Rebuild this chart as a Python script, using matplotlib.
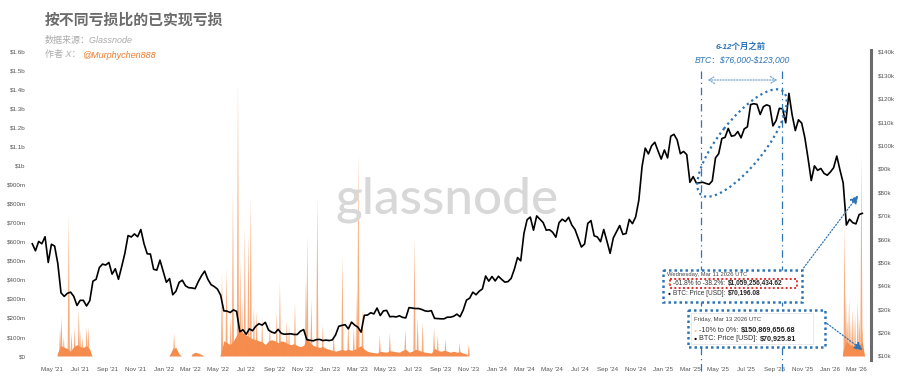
import numpy as np
import pandas as pd
import matplotlib
matplotlib.use('Agg')
import matplotlib.pyplot as plt
import matplotlib.dates as mdates
from matplotlib.patches import Ellipse, Rectangle, FancyArrowPatch

plt.rcParams['font.family'] = ['Liberation Sans', 'Noto Sans CJK SC', 'DejaVu Sans']
plt.rcParams['text.parse_math'] = False

# --- BTC weekly price (USD), Fridays ---
btc_2021 = [58000, 55000, 59000, 58000, 61000, 50000, 57800, 57000, 49500, 37000,
            35500, 36800, 37300, 35500, 31600, 33800, 33800, 31400, 33600, 42000,
            42800, 47800, 49300, 48900, 50000, 45000, 47300, 42800, 48200, 53900,
            61500, 60900, 62200, 61000, 64100, 58000, 53700, 53600, 47100, 46700,
            51000, 46300]
btc_2022 = [41500, 43100, 36200, 37700, 41500, 42400, 40000, 39200, 39100, 38800,
            41800, 44300, 46300, 42800, 40500, 39700, 38600, 36000, 29300, 29200,
            28600, 29700, 29100, 20400, 21200, 19300, 21600, 20800, 22700, 23800,
            23200, 24400, 21100, 20200, 19800, 21400, 19700, 19300, 19400, 19500,
            19200, 19200, 20600, 21300, 17000, 16700, 16500, 17000, 17100, 16600,
            16800, 16600]
btc_2023 = [16900, 19000, 22700, 23100, 23400, 21600, 24500, 23200, 22300, 20200,
            27400, 27500, 28500, 28000, 30500, 27300, 29300, 29500, 26800, 26900,
            26700, 27200, 26500, 26300, 30700, 30500, 30300, 30300, 29900, 29300,
            29100, 29400, 26100, 26000, 25900, 25900, 26600, 26600, 27000, 27900,
            26800, 29700, 33900, 34700, 37300, 36200, 37700, 38700, 44200, 42000,
            44000, 42100]
btc_2024 = [44100, 42800, 41600, 41800, 43200, 47100, 52100, 50700, 62400, 68300,
            69400, 63800, 69900, 68500, 67100, 63800, 64000, 62900, 60800, 67000,
            68500, 67500, 69300, 66000, 64100, 60300, 56600, 57900, 66700, 67900,
            61400, 60900, 58900, 64100, 59100, 53900, 60500, 63100, 65800, 62000,
            62400, 68400, 66600, 69500, 76700, 91000, 98900, 96400, 99900, 101400,
            97700, 94200]
btc_2025 = [98100, 94700, 104000, 104800, 102400, 96500, 97500, 96100, 84300, 86700,
            84000, 84100, 84300, 83800, 83400, 84900, 94700, 96500, 103000, 103500,
            107300, 104000, 104300, 106000, 103300, 107100, 108000, 117500, 117900, 117600,
            113300, 116600, 117400, 116900, 108400, 110700, 115900, 115700, 109700, 122300,
            113200, 106400, 111000, 109600, 103300, 94500, 85000, 91300, 89400, 90200,
            88100, 87300]
btc_2026 = [88700, 90500, 95500, 89500, 84000, 66000, 68500, 67000, 66500, 70500,
            71000]

# --- realized loss, weekly base level ($m) ---
loss_2021 = [20, 55, 45, 40, 25, 50, 60, 50, 45, 55, 35]                  # from 2021-05-14
loss_2022a = [5, 40, 45, 10]                                                # from 2022-01-14
loss_2022b = [10, 20, 15, 8]                                                # from 2022-03-04
loss_main = [10, 80, 70, 60, 80, 110, 140, 120, 110, 100, 90, 85, 80, 75, 60, 80,
             85, 80, 70, 80, 75, 65, 60, 65, 55, 50, 55, 100, 70, 55, 50, 45, 50,
             40, 35, 30, 25, 30, 35, 30, 35, 30, 35, 45, 55, 35, 25, 20, 18, 15,
             25, 22, 20, 28, 25, 22, 20, 30, 35, 20, 25, 35, 30, 25, 20, 18, 15,
             40, 30, 25, 30, 25, 20, 25, 20, 22, 15, 10]                   # from 2022-05-06
loss_2026 = [30, 80, 60, 55, 50, 60, 70]                                    # from 2026-01-30

# --- daily spikes ($m) ---
spike_dates = ['2021-05-19', '2021-05-22', '2021-05-27', '2021-06-07', '2021-06-13',
               '2021-06-20', '2021-06-29', '2021-07-02', '2021-07-07', '2021-07-16',
               '2021-07-20', '2022-01-24', '2022-05-09', '2022-05-19', '2022-05-28',
               '2022-06-02', '2022-06-13', '2022-06-18', '2022-06-22', '2022-06-28',
               '2022-07-06', '2022-07-11', '2022-07-18', '2022-07-24', '2022-08-05',
               '2022-08-22', '2022-09-06', '2022-09-13', '2022-09-28', '2022-10-03',
               '2022-10-16', '2022-11-09', '2022-11-12', '2022-11-21', '2022-12-04',
               '2022-12-16', '2023-01-09', '2023-01-28', '2023-02-10', '2023-02-22',
               '2023-03-01', '2023-03-04', '2023-03-13', '2023-04-20', '2023-05-12',
               '2023-06-15', '2023-07-05', '2023-07-12', '2023-07-23', '2023-08-17',
               '2023-08-25', '2023-09-11', '2023-10-12', '2023-11-01', '2026-02-02',
               '2026-02-05', '2026-02-08', '2026-02-12', '2026-02-16', '2026-02-20',
               '2026-02-25', '2026-03-03', '2026-03-07', '2026-03-11', '2026-03-13']
spike_vals = [150, 205, 100, 742, 120,
              150, 250, 130, 100, 155,
              155, 120, 437, 470, 200,
              860, 1440, 500, 300, 680,
              650, 840, 260, 240, 205,
              180, 230, 385, 190, 160,
              280, 400, 630, 300, 840,
              160, 120, 520, 180, 150,
              350, 1070, 250, 110, 120,
              140, 620, 200, 180, 150,
              110, 90, 70, 60, 690,
              320, 200, 300, 180, 250,
              220, 290, 200, 1059, 151]

# tooltip texts
tip1_date = 'Wednesday, Mar 11 2026 UTC'
tip1_rows = [('-61.8% to -38.2%:', '$1,059,256,434.62', '#f08a3c'),
             ('BTC: Price [USD]:', '$70,196.08', 'black')]
tip2_date = 'Friday, Mar 13 2026 UTC'
tip2_rows = [('-10% to 0%:', '$150,869,656.68', '#f8c7a2'),
             ('BTC: Price [USD]:', '$70,925.81', 'black')]


def weekly(start, vals):
    return pd.date_range(start, periods=len(vals), freq='7D')


btc_dates = np.concatenate([weekly('2021-03-19', btc_2021), weekly('2022-01-07', btc_2022),
                            weekly('2023-01-06', btc_2023), weekly('2024-01-05', btc_2024),
                            weekly('2025-01-03', btc_2025), weekly('2026-01-02', btc_2026)])
btc = btc_2021 + btc_2022 + btc_2023 + btc_2024 + btc_2025 + btc_2026

fig = plt.figure(figsize=(9, 3.86), dpi=100)
fig.patch.set_facecolor('white')
ax = fig.add_axes([30 / 900, 1 - 360 / 386, 841 / 900, 310 / 386])
ax2 = ax.twinx()

orange = '#f58b4c'
for start, vals in [('2021-05-14', loss_2021), ('2022-01-14', loss_2022a),
                    ('2022-03-04', loss_2022b), ('2022-05-06', loss_main),
                    ('2026-01-30', loss_2026)]:
    d = mdates.date2num(weekly(start, vals))
    v = np.array(vals) * 1e6
    xs = np.concatenate([[d[0] - 2], d, [d[-1] + 5]])
    ys = np.concatenate([[0], v, [0]])
    ax.fill_between(xs, 0, ys, color=orange, linewidth=0)

# spikes drawn as narrow peaks
half = 2.5
for ds, val in zip(pd.to_datetime(spike_dates), spike_vals):
    c = mdates.date2num(ds)
    ax.fill([c - half, c, c + half], [0, val * 1e6, 0], color='#f68f50', alpha=0.75,
            linewidth=0)

ax2.plot(btc_dates, btc, color='black', linewidth=1.2)

ax.set_xlim(pd.Timestamp('2021-03-14'), pd.Timestamp('2026-04-01'))
ax.set_ylim(-21.05e6, 1.6105e9)
ax2.set_ylim(8289, 140855)

left_ticks = np.arange(0, 1.7e9, 1e8)
ax.set_yticks(left_ticks)
ax.set_yticklabels(['$0'] + [f'${int(v / 1e6)}m' for v in left_ticks[1:10]] + ['$1b'] +
                   [f'${v / 1e9:.1f}b' for v in left_ticks[11:]])
right_ticks = np.arange(10000, 150000, 10000)
ax2.set_yticks(right_ticks)
ax2.set_yticklabels([f'${int(v / 1000)}k' for v in right_ticks])

xt = pd.date_range('2021-05-01', '2026-03-01', freq='2MS')
ax.set_xticks(xt)
ax.set_xticklabels([d.strftime("%b '%y") for d in xt])

for a in (ax, ax2):
    for s in a.spines.values():
        s.set_visible(False)
    a.tick_params(length=0, labelsize=4.5, colors='#555555')
ax2.spines['right'].set_visible(True)
ax2.spines['right'].set_color('#6b6b6b')
ax2.spines['right'].set_linewidth(2.2)
ax.tick_params(axis='x', pad=5)
ax.tick_params(axis='y', pad=3)
ax2.tick_params(axis='y', pad=5)

# --- overlay in pixel coordinates for texts and annotations ---
ov = fig.add_axes([0, 0, 1, 1], zorder=5)
ov.set_xlim(0, 900)
ov.set_ylim(386, 0)
ov.axis('off')
ov.patch.set_alpha(0)
renderer = fig.canvas.get_renderer()

fig.text(447 / 900, 1 - 200 / 386, 'glassnode', fontsize=37, color='#d8d8d8', ha='center',
         va='center', family='Lato', fontweight='medium', zorder=0)

ov.text(45, 20, '按不同亏损比的已实现亏损', fontsize=10.7, fontweight='bold', color='#6b6b6b',
        va='center', family=['Noto Sans CJK SC'])
ov.text(45, 40, '数据来源：Glassnode', fontsize=6.5, color='#ababab', va='center', style='italic')
ov.text(45, 55, '作者 X：', fontsize=6.5, color='#ababab', va='center', style='italic')
ov.text(82, 55, '@Murphychen888', fontsize=6.5, color='#f07a2e', va='center', style='italic')

blue = '#2e75b6'
ov.text(741, 47, '6-12个月之前', fontsize=6, fontweight='bold', style='italic', color=blue,
        ha='center', va='center')
ov.text(742, 60, 'BTC：$76,000-$123,000', fontsize=6.2, style='italic', color=blue,
        ha='center', va='center')
for xv in (701, 782):
    ov.plot([xv, xv], [71, 372], color=blue, lw=0.9, ls=(0, (6, 3, 1, 3)), zorder=1)
ov.add_patch(FancyArrowPatch((705, 80), (780, 80), arrowstyle='<->,head_length=4,head_width=2.5',
                             color='#7aa7d4', lw=0.9, ls=(0, (1, 1.2)), mutation_scale=1))
ov.add_patch(Ellipse((742, 143), 132, 46, angle=-51.7, fill=False, edgecolor=blue,
                     lw=1.6, ls=(0, (1, 1.5))))


def tip_row(x, y, label, value, dot, fs):
    ov.text(x, y, '●', fontsize=fs * 0.75, color=dot, va='center', zorder=6)
    t = ov.text(x + 5, y, label, fontsize=fs, color='#333333', va='center', zorder=6)
    bb = t.get_window_extent(renderer)
    ov.text(bb.x1 + 2.5, y, value, fontsize=fs, color='#222222', va='center',
            fontweight='bold', zorder=6)


# tooltip 1
ov.add_patch(Rectangle((663, 270), 139, 32, facecolor='white', edgecolor=blue, lw=1.8,
                       ls=(0, (1, 1.2)), zorder=4))
ov.add_patch(Rectangle((670, 279), 127, 8.5, facecolor='none', edgecolor='#e0302a', lw=1.4,
                       ls=(0, (1, 1.2)), zorder=5))
ov.text(667, 274.5, tip1_date, fontsize=4.2, color='#444444', va='center', zorder=6)
for i, (lab, val, dot) in enumerate(tip1_rows):
    tip_row(668, 283.5 + 10 * i, lab, val, dot, 4.7)
ov.add_patch(FancyArrowPatch((802, 270), (860, 193), arrowstyle='-|>,head_length=5,head_width=2.5',
                             color=blue, lw=0.9, ls=(0, (1, 1.5)), mutation_scale=1))

# tooltip 2
ov.add_patch(Rectangle((688, 310), 137, 37, facecolor='white', edgecolor=blue, lw=1.8,
                       ls=(0, (1, 1.2)), zorder=4))
ov.add_patch(Rectangle((691, 313), 122, 31, facecolor='none', edgecolor='#e6e6e6', lw=0.6,
                       zorder=5))
ov.text(694, 320, tip2_date, fontsize=4.3, color='#444444', va='center', zorder=6)
for i, (lab, val, dot) in enumerate(tip2_rows):
    tip_row(694, 330 + 9 * i, lab, val, dot, 5.2)
ov.add_patch(FancyArrowPatch((825, 322), (865, 352), arrowstyle='-|>,head_length=5,head_width=2.5',
                             color=blue, lw=0.9, ls=(0, (1, 1.5)), mutation_scale=1))

fig.savefig('out.png', dpi=100)
